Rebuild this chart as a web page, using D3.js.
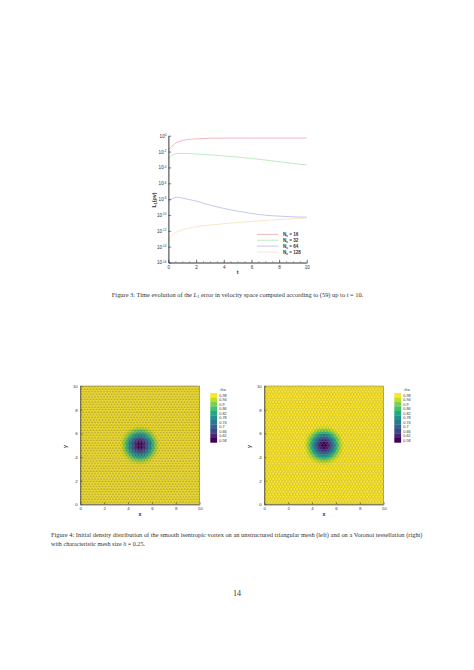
<!DOCTYPE html>
<html>
<head>
<meta charset="utf-8">
<script src="https://cdn.jsdelivr.net/npm/d3@7"></script>
<style>
  html, body { margin: 0; padding: 0; background: #fff; }
  svg { display: block; }
  text { font-family: "Liberation Sans", sans-serif; fill: #333; }
  .serif { font-family: "Liberation Serif", serif; fill: #333; }
  .domain, .tick line { stroke: #333; }
</style>
</head>
<body>
<svg id="page" width="474" height="670"></svg>
<script>
// error curves, log10 of L1 error
var names = ['16', '32', '64', '128'];
var lineColors = ['#eb9aa2', '#9fe3aa', '#adade8', '#f3dcb4'];
var t16 = [0, 0.15, 0.5, 1, 2, 4, 7, 10];
var e16 = [-1.8, -1.5, -0.95, -0.62, -0.4, -0.3, -0.3, -0.3];
var t32 = [0, 0.15, 0.3, 0.6, 1, 2, 4, 6, 8, 10];
var e32 = [-2.86, -2.6, -2.44, -2.25, -2.23, -2.3, -2.55, -2.86, -3.29, -3.7];
var t64 = [0, 0.3, 0.6, 1, 2, 3, 4, 5, 6, 7, 8, 9, 10];
var e64 = [-8.3, -7.92, -7.75, -7.88, -8.25, -8.76, -9.18, -9.52, -9.81, -10.03, -10.15, -10.24, -10.28];
var t128 = [0, 0.15, 0.5, 1, 2, 3, 4, 6, 8, 10];
var e128 = [-13.4, -12.75, -12.25, -11.9, -11.5, -11.28, -11.1, -10.82, -10.57, -10.4];

var logTicks = [0, -2, -4, -6, -8, -10, -12, -14, -16];
var xTicks = [0, 2, 4, 6, 8, 10];

// density against distance from the vortex centre
var radius = [0, 0.25, 0.5, 0.75, 1, 1.25, 1.5, 1.75, 2, 8];
var density = [0.56, 0.59, 0.65, 0.73, 0.82, 0.9, 0.96, 0.985, 1, 1];
var barLevels = [0.98, 0.94, 0.9, 0.86, 0.82, 0.78, 0.74, 0.7, 0.66, 0.62, 0.58];

var svg = d3.select('#page');

function inwardAxis(axis, scale, size) {
  return axis(scale).tickSizeInner(-size).tickSizeOuter(0);
}

function drawErrorChart() {
  var x = d3.scaleLinear().domain([0, 10]).range([168.4, 306.8]);
  var y = d3.scaleLinear().domain([0, -16]).range([135.7, 262.5]);
  var g = svg.append('g');

  var line = d3.line().x(function (d) { return x(d[0]); }).y(function (d) { return y(d[1]); })
    .curve(d3.curveMonotoneX);
  var series = [d3.zip(t16, e16), d3.zip(t32, e32), d3.zip(t64, e64), d3.zip(t128, e128)];
  g.selectAll('path.err').data(series).enter().append('path')
    .attr('class', 'err')
    .attr('d', line)
    .attr('fill', 'none')
    .attr('stroke-width', 0.7)
    .attr('stroke', function (d, i) { return lineColors[i]; });

  var ax = g.append('g').attr('transform', 'translate(0,262.5)')
    .call(inwardAxis(d3.axisBottom, x, 2.8).tickValues(xTicks).tickPadding(3));
  ax.selectAll('line').attr('stroke-width', 0.6);
  ax.select('.domain').attr('stroke-width', 1);
  ax.selectAll('text').attr('font-size', 4.6);
  // minor ticks
  g.append('g').attr('transform', 'translate(0,262.5)')
    .call(inwardAxis(d3.axisBottom, x, 1.4).tickValues(d3.range(0, 10.01, 0.5)).tickFormat(''))
    .call(function (s) { s.select('.domain').remove(); s.selectAll('line').attr('stroke-width', 0.4); });

  var ay = g.append('g').attr('transform', 'translate(168.4,0)')
    .call(inwardAxis(d3.axisLeft, y, 2.8).tickValues(logTicks).tickPadding(2).tickFormat(''));
  ay.selectAll('line').attr('stroke-width', 0.6);
  ay.select('.domain').attr('stroke-width', 1);
  ay.selectAll('.tick text').each(function (d) {
    var t = d3.select(this).attr('font-size', 4.6);
    t.append('tspan').text('10');
    t.append('tspan').attr('font-size', 3).attr('dy', -1.6).text(d);
  });

  g.append('text').attr('x', 237.6).attr('y', 273.5).attr('text-anchor', 'middle')
    .attr('font-size', 5.6).attr('font-weight', 'bold').text('t');

  var yl = g.append('text').attr('transform', 'translate(156,200) rotate(-90)')
    .attr('text-anchor', 'middle').attr('font-size', 5.4).attr('font-weight', 'bold');
  yl.append('tspan').text('L');
  yl.append('tspan').attr('font-size', 3.6).attr('dy', 1).text('1');
  yl.append('tspan').attr('dy', -1).text('(ρv)');

  // legend
  var rows = g.selectAll('g.leg').data(names).enter().append('g')
    .attr('class', 'leg')
    .attr('transform', function (d, i) { return 'translate(257,' + (234.4 + i * 5.85) + ')'; });
  rows.append('line').attr('x2', 21.5)
    .attr('stroke-width', 0.7)
    .attr('stroke', function (d, i) { return lineColors[i]; });
  var lt = rows.append('text').attr('x', 26).attr('y', 1.7)
    .attr('font-size', 4.6).attr('font-weight', 'bold');
  lt.append('tspan').text('N');
  lt.append('tspan').attr('font-size', 3).attr('dy', 1).text('c');
  lt.append('tspan').attr('dy', -1).text(function (d) { return ' = ' + d; });
}

function drawDensityPanel(left, id, kind) {
  var size = 119.4;
  var x = d3.scaleLinear().domain([0, 10]).range([left, left + size]);
  var y = d3.scaleLinear().domain([0, 10]).range([504.4, 504.4 - 118.4]);
  var rhoAt = d3.scaleLinear().domain(radius).range(density);
  var color = d3.scaleSequential(d3.interpolateViridis).domain([0.58, 0.98]).clamp(true);
  var g = svg.append('g');

  g.append('clipPath').attr('id', id).append('rect')
    .attr('x', left).attr('y', 386).attr('width', size).attr('height', 118.4);
  var cells = g.append('g').attr('clip-path', 'url(#' + id + ')');
  var h = 0.25, rowH = h * Math.sqrt(3) / 2;

  function polygon(pts) {
    return 'M' + pts.map(function (p) { return x(p[0]) + ',' + y(p[1]); }).join('L') + 'Z';
  }

  var polys = [];
  d3.range(0, Math.ceil(10 / rowH) + 1).forEach(function (row) {
    var off = row % 2 ? h / 2 : 0, by = row * rowH;
    d3.range(-1, Math.ceil(10 / h) + 1).forEach(function (col) {
      var bx = col * h + off;
      if (kind === 'tri') {
        polys.push([[bx, by], [bx + h, by], [bx + h / 2, by + rowH]]);
        polys.push([[bx + h, by], [bx + h * 1.5, by + rowH], [bx + h / 2, by + rowH]]);
      } else {
        var r = h / Math.sqrt(3);
        polys.push(d3.range(6).map(function (k) {
          var a = Math.PI / 6 + k * Math.PI / 3;
          return [bx + r * Math.cos(a), by + r * Math.sin(a)];
        }));
      }
    });
  });

  function cellColor(p) {
    var cx = d3.mean(p, function (q) { return q[0]; });
    var cy = d3.mean(p, function (q) { return q[1]; });
    return color(rhoAt(Math.hypot(cx - 5, cy - 5)));
  }

  // mesh edges only show up against the yellow, so darken from the cell colour
  cells.selectAll('path').data(polys).enter().append('path')
    .attr('d', polygon)
    .attr('fill', cellColor)
    .attr('stroke', function (p) { return d3.color(cellColor(p)).darker(kind === 'tri' ? 2 : 1.6); })
    .attr('stroke-width', kind === 'tri' ? 0.2 : 0.22);

  var ax = g.append('g').attr('transform', 'translate(0,504.4)')
    .call(inwardAxis(d3.axisBottom, x, 2.2).tickValues(xTicks).tickPadding(2.5));
  var ay = g.append('g').attr('transform', 'translate(' + left + ',0)')
    .call(inwardAxis(d3.axisLeft, y, 2.2).tickValues(xTicks).tickPadding(2.5));
  [ax, ay].forEach(function (a) {
    a.selectAll('line').attr('stroke-width', 0.5);
    a.select('.domain').attr('stroke-width', 0.7);
    a.selectAll('text').attr('font-size', 4.4);
  });
  g.append('rect').attr('x', left).attr('y', 386).attr('width', size).attr('height', 118.4)
    .attr('fill', 'none').attr('stroke', '#555').attr('stroke-width', 0.4);

  g.append('text').attr('x', left + size / 2).attr('y', 515.5).attr('text-anchor', 'middle')
    .attr('font-size', 5.4).attr('font-weight', 'bold').text('x');
  g.append('text').attr('transform', 'translate(' + (left - 13) + ',446.5) rotate(-90)')
    .attr('text-anchor', 'middle').attr('font-size', 5.4).attr('font-weight', 'bold').text('y');

  // colour bar, one band per level
  var barX = left + size + 10.6;
  var band = d3.scaleBand().domain(barLevels).range([393, 442.5]);
  g.selectAll('rect.lvl').data(barLevels).enter().append('rect')
    .attr('class', 'lvl')
    .attr('x', barX)
    .attr('y', function (d) { return band(d); })
    .attr('width', 6.8)
    .attr('height', band.bandwidth() + 0.2)
    .attr('fill', function (d) { return color(d); });
  g.selectAll('text.lvl').data(barLevels).enter().append('text')
    .attr('class', 'lvl')
    .attr('x', barX + 9)
    .attr('y', function (d) { return band(d) + band.bandwidth() / 2 + 1.3; })
    .attr('font-size', 3.8)
    .text(function (d) { return d; });
  g.append('text').attr('x', barX + 10).attr('y', 390.5).attr('font-size', 3.8).text('rho');
}

function caption(xPos, yPos, width, parts, size) {
  var t = svg.append('text').attr('class', 'serif').attr('x', xPos).attr('y', yPos)
    .attr('font-size', size).attr('textLength', width).attr('lengthAdjust', 'spacingAndGlyphs');
  parts.forEach(function (p) {
    var s = t.append('tspan').attr('class', 'serif').text(p.s);
    if (p.i) s.attr('font-style', 'italic');
    if (p.sub) s.attr('font-size', size * 0.7).attr('dy', 1);
    if (p.back) s.attr('dy', -1);
  });
}

drawErrorChart();
drawDensityPanel(80.3, 'clipLeft', 'tri');
drawDensityPanel(264.3, 'clipRight', 'hex');

caption(111.8, 297, 251.5, [
  { s: 'Figure 3: Time evolution of the ' }, { s: 'L', i: true }, { s: '1', sub: true },
  { s: ' error in velocity space computed according to (59) up to ', back: true }, { s: 't', i: true }, { s: ' = 10.' }
], 6.2);
caption(51, 537, 371.5, [
  { s: 'Figure 4: Initial density distribution of the smooth isentropic vortex on an unstructured triangular mesh (left) and on a Voronoi tessellation (right)' }
], 6.2);
caption(51, 546, 94, [
  { s: 'with characteristic mesh size ' }, { s: 'h', i: true }, { s: ' = 0.25.' }
], 6.2);

svg.append('text').attr('class', 'serif').attr('x', 237).attr('y', 596)
  .attr('text-anchor', 'middle').attr('font-size', 8).text('14');
</script>
</body>
</html>
